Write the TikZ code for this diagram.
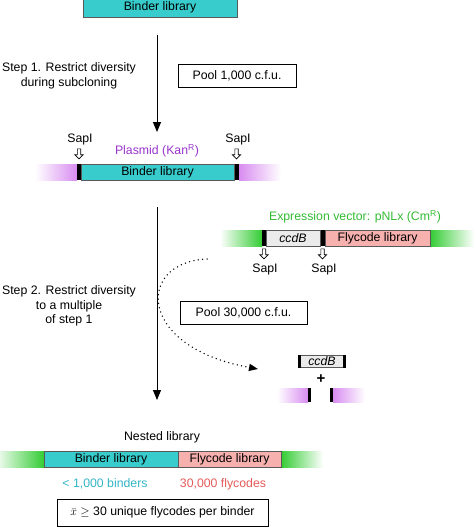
\documentclass[tikz,border=0pt]{standalone}
\usepackage{fontspec}
\setmainfont{Liberation Sans}
\usetikzlibrary{arrows.meta, shapes.arrows, positioning}
\definecolor{binderCyan}{RGB}{56,204,204}
\definecolor{flyPink}{RGB}{246,176,174}
\definecolor{vecGreen}{RGB}{51,204,51}
\definecolor{plasViolet}{RGB}{216,140,240}
\definecolor{plasText}{RGB}{153,51,204}
\definecolor{vecText}{RGB}{51,187,51}
\definecolor{binderText}{RGB}{51,181,197}
\definecolor{flyText}{RGB}{230,90,90}
\tikzset{
    libBox/.style={rectangle, draw=black!65, line width=0.6pt, inner sep=0pt, minimum height=16pt},
    binderBox/.style={libBox, fill=binderCyan},
    flyBox/.style={libBox, fill=flyPink},
    ccdbBox/.style={libBox, fill=black!8},
    site/.style={rectangle, fill=black, inner sep=0pt, minimum width=4pt, minimum height=16pt},
    poolBox/.style={rectangle, draw, line width=0.7pt, inner sep=0pt, minimum height=23pt},
    cutArrow/.style={single arrow, draw, fill=white, line width=0.6pt, rotate=-90, inner sep=1.4pt, single arrow head extend=2.4pt, minimum height=10pt},
    stepArrow/.style={-{Triangle[length=10pt, width=8pt]}, line width=0.9pt},
    swapArrow/.style={-{Triangle[length=9pt, width=7pt]}, line width=1.5pt, dash pattern=on 0pt off 4.4pt, line cap=round},
}
\newcommand{\drawCut}[3]{
    \node[cutArrow] (#1) at (#2,#3) {};
}
\newcommand{\fadeLeft}[5]{
    \shade[left color=white, right color=#5] (#1,#3) rectangle (#2,#4);
}
\newcommand{\fadeRight}[5]{
    \shade[left color=#5, right color=white] (#1,#3) rectangle (#2,#4);
}

\begin{document}
\begin{tikzpicture}[x=1pt, y=-1pt, font=\fontsize{12.3}{14.5}\selectfont]
    \useasboundingbox (0,0) rectangle (474,527);

    % binder library and step 1
    \node[binderBox, minimum width=154pt, minimum height=20pt] (top) at (160,7) {Binder library};
    \coordinate (s1a) at (157,35);
    \coordinate (s1b) at (157,132);
    \draw[stepArrow] (s1a) -- (s1b);
    \node[align=center] (step1) at (69,76) {Step 1. Restrict diversity\\during subcloning};
    \node[poolBox, minimum width=118pt] (pool1) at (237,75.5) {Pool 1,000 c.f.u.};

    % plasmid
    \fadeLeft{35}{77}{164}{180}{plasViolet}
    \fadeRight{239}{281}{164}{180}{plasViolet}
    \node[binderBox, minimum width=153pt] (plasBinder) at (157.5,172) {Binder library};
    \node[site] (plasL) at (79,172) {};
    \node[site] (plasR) at (236.5,172) {};
    \drawCut{cutL}{79}{153}
    \drawCut{cutR}{236.5}{153}
    \node (sapL) at (80,139) {SapI};
    \node (sapR) at (238,139) {SapI};
    \node[text=plasText] (plas) at (157,151) {Plasmid (Kan\textsuperscript{R})};

    % step 2
    \coordinate (s2a) at (157,207);
    \coordinate (s2b) at (157,400);
    \draw[stepArrow] (s2a) -- (s2b);
    \node[align=center] (step2) at (69,306) {Step 2. Restrict diversity\\to a multiple\\of step 1};
    \node[poolBox, minimum width=127pt] (pool2) at (243.5,312.5) {Pool 30,000 c.f.u.};

    % expression vector
    \node[text=vecText] (vec) at (355,217) {Expression vector: pNLx (Cm\textsuperscript{R})};
    \fadeLeft{220}{262}{230}{246}{vecGreen}
    \fadeRight{430}{474}{230}{246}{vecGreen}
    \node[ccdbBox, minimum width=54pt] (vecCcdb) at (293,238) {\textit{ccdB}};
    \node[flyBox, minimum width=105pt] (vecFly) at (377.5,238) {Flycode library};
    \node[site] (vecL) at (264,238) {};
    \node[site] (vecR) at (322.5,238) {};
    \drawCut{cutVL}{264}{253}
    \drawCut{cutVR}{322.5}{253}
    \node (sapVL) at (265,269) {SapI};
    \node (sapVR) at (324,269) {SapI};

    % swap
    \coordinate (swapA) at (207,259);
    \coordinate (swapB) at (258,369);
    \draw[swapArrow] (swapA) .. controls (136,262) and (136,347) .. (swapB);
    \node[ccdbBox, minimum width=46pt, minimum height=12pt] (outCcdb) at (322,361) {\textit{ccdB}};
    \node[site, minimum width=3pt, minimum height=13pt] (outL) at (299.5,361) {};
    \node[site, minimum width=3pt, minimum height=13pt] (outR) at (344.5,361) {};
    \node[font=\fontsize{15}{15}\selectfont\bfseries] (plus) at (321,379) {+};
    \fadeLeft{277}{308}{388}{402}{plasViolet}
    \fadeRight{333}{365}{388}{402}{plasViolet}
    \node[site, minimum width=3pt, minimum height=14pt] (cutPL) at (309.5,395) {};
    \node[site, minimum width=3pt, minimum height=14pt] (cutPR) at (331.5,395) {};

    % nested library
    \node (nested) at (162,437) {Nested library};
    \fadeLeft{-6}{44}{451}{467}{vecGreen}
    \fadeRight{281}{323}{451}{467}{vecGreen}
    \node[binderBox, minimum width=134pt] (nestBinder) at (111,459) {Binder library};
    \node[flyBox, minimum width=103pt] (nestFly) at (229.5,459) {Flycode library};
    \node[text=binderText] (nBinders) at (105,484) {< 1,000 binders};
    \node[text=flyText] (nFly) at (223,484) {30,000 flycodes};
    \node[poolBox, minimum width=211pt, minimum height=27pt] (ratio) at (162.5,512.5) {$\bar{x}\geq$ 30 unique flycodes per binder};

\end{tikzpicture}
\end{document}
